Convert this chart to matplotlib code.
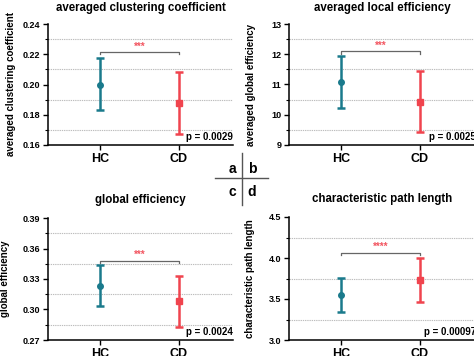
import matplotlib
matplotlib.use("Agg")
import matplotlib.pyplot as plt
from matplotlib.ticker import MultipleLocator

plt.rcParams['font.family'] = ['Liberation Sans', 'DejaVu Sans']

groups = ["HC", "CD"]
titles = ["averaged clustering coefficient", "averaged local efficiency",
          "global efficiency", "characteristic path length"]
ylabels = ["averaged clustering coefficient", "averaged global efficiency",
           "global efficiency", "characteristic path length"]
means = [[0.200, 0.1875], [11.08, 10.43], [0.3235, 0.308], [3.55, 3.73]]
uppers = [[0.2175, 0.208], [11.95, 11.45], [0.344, 0.333], [3.755, 4.005]]
lowers = [[0.183, 0.167], [10.23, 9.42], [0.303, 0.283], [3.34, 3.46]]
bracket_y = [0.2215, 12.1, 0.348, 4.065]
stars = ["***", "***", "***", "****"]
pvals = ["p = 0.0029", "p = 0.0025", "p = 0.0024", "p = 0.00097"]
ylims = [(0.16, 0.24), (9, 13), (0.27, 0.39), (3.0, 4.5)]
major = [0.02, 1, 0.03, 0.5]
yfmt = ["%.2f", "%d", "%.2f", "%.1f"]

colors = ["#1a7a8c", "#f0444e"]
markers = ["o", "s"]

W, H = 474, 356
fig = plt.figure(figsize=(W / 100, H / 100), dpi=100)

# axes boxes in pixels: left, top, right, bottom
boxes = [(48, 24, 233, 145), (289, 24, 476, 145),
         (48, 218, 233, 340), (289, 217, 476, 340)]
ylabel_x = [11, 251, 5, 250]
title_pad = [9.5, 9.5, 10.5, 10.5]

for i in range(4):
    l, t, r, b = boxes[i]
    ax = fig.add_axes([l / W, 1 - b / H, (r - l) / W, (b - t) / H])
    ax.set_ylim(*ylims[i])
    xs = [0, 1]
    ax.set_xlim(-52 / 79, (r - l - 52) / 79)
    for j in range(2):
        m = means[i][j]
        ax.errorbar(xs[j], m,
                    yerr=[[m - lowers[i][j]], [uppers[i][j] - m]],
                    fmt=markers[j], color=colors[j], ms=4, elinewidth=1.8,
                    capsize=2.8, capthick=1.8, zorder=3)
    ax.yaxis.set_major_locator(MultipleLocator(major[i]))
    ax.yaxis.set_minor_locator(MultipleLocator(major[i] / 2))
    ax.yaxis.set_major_formatter(matplotlib.ticker.FormatStrFormatter(yfmt[i]))
    lo, hi = ylims[i]
    v = lo + major[i] / 2
    while v < hi - 1e-9:
        ax.axhline(v, color="#bdbdbd", lw=0.8, ls=(0, (1.2, 0.8)), zorder=1)
        v += major[i]
    ax.set_xticks(xs)
    ax.set_xticklabels(groups, fontsize=9, fontweight="bold")
    for lab in ax.get_yticklabels():
        lab.set_fontsize(6.5)
        lab.set_fontweight("bold")
    for s in ["top", "right"]:
        ax.spines[s].set_visible(False)
    for s in ["left", "bottom"]:
        ax.spines[s].set_linewidth(1.1)
    ax.tick_params(axis="y", which="major", length=3.5, width=1.0, pad=2)
    ax.tick_params(axis="y", which="minor", length=2, width=0.8)
    ax.tick_params(axis="x", length=3.5, width=1.0, pad=2)
    rng = hi - lo
    by = bracket_y[i]
    tick = rng * 0.02
    ax.plot([0, 0, 1, 1], [by - tick, by, by, by - tick], color="#666666", lw=0.9, zorder=2)
    ax.text(0.5, by + rng * 0.003, stars[i], color="#f25560", fontsize=7,
            ha="center", va="bottom", fontweight="bold")
    ax.text(1.0, 0.025, pvals[i], transform=ax.transAxes, ha="right", va="bottom",
            fontsize=7, fontweight="bold")
    ax.set_title(titles[i], fontsize=8.3, fontweight="bold", pad=title_pad[i])
    fig.text(ylabel_x[i] / W, 1 - ((t + b) / 2) / H, ylabels[i], rotation=90,
             ha="center", va="center", fontsize=7, fontweight="bold")

# panel letters and cross
for letter, x, y in [("a", 232, 169), ("b", 252, 169), ("c", 232, 192), ("d", 252, 192)]:
    fig.text(x / W, 1 - y / H, letter, fontsize=10, fontweight="bold", ha="center", va="center")
fig.add_artist(plt.Line2D([215 / W, 268 / W], [1 - 178 / H, 1 - 178 / H],
                          color="#555555", lw=1.0, transform=fig.transFigure))
fig.add_artist(plt.Line2D([242 / W, 242 / W], [1 - 153 / H, 1 - 205 / H],
                          color="#555555", lw=1.0, transform=fig.transFigure))

fig.savefig("out.png", dpi=100, facecolor="white")
